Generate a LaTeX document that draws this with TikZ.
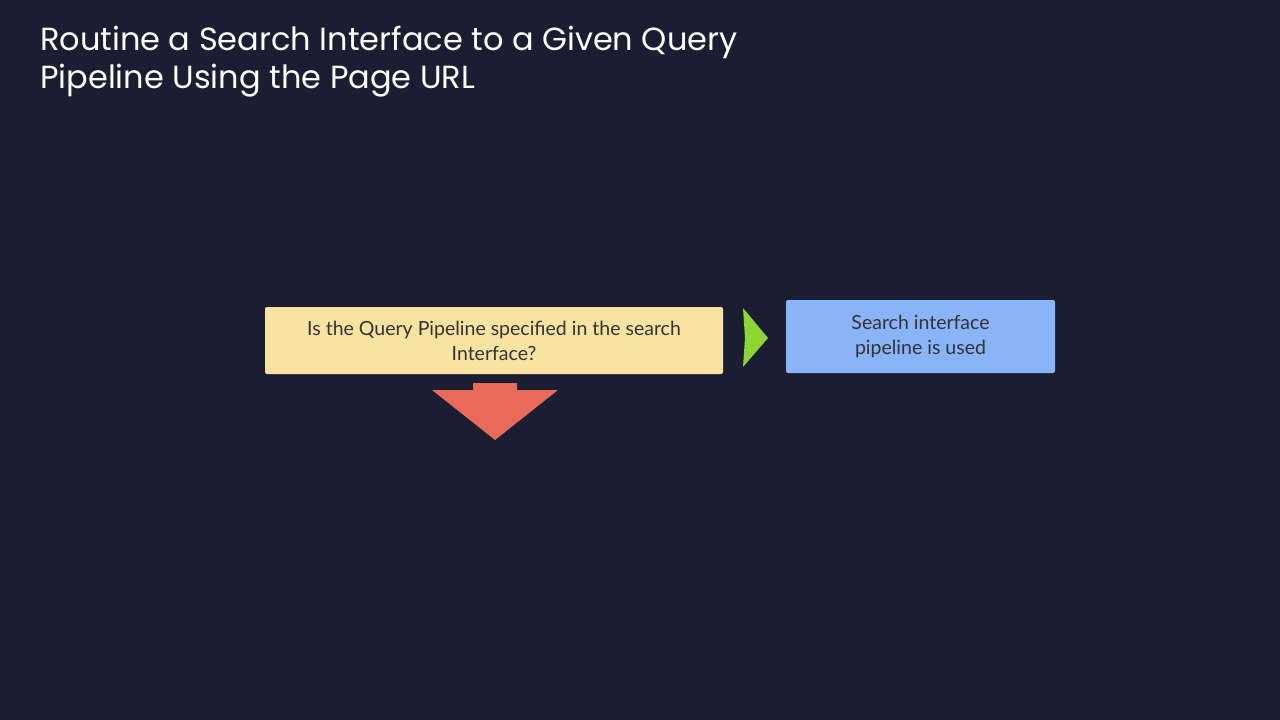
\documentclass[tikz,border=0pt]{standalone}
\usepackage{fontspec}
\setmainfont{Lato}
\newfontfamily\titlefont{Poppins}
\begin{document}
\begin{tikzpicture}[x=1pt,y=-1pt,
  box/.style={rounded corners=2pt,align=center,text=black!80,font=\fontsize{19.5}{25}\selectfont,inner sep=0pt}]
\fill[fill={rgb,255:red,27;green,30;blue,50}] (0,0) rectangle (1280,720);
\useasboundingbox (0,0) rectangle (1280,720);
\node[anchor=north west,align=left,text=white,font=\titlefont\fontsize{32}{38}\selectfont,inner sep=0pt] (title) at (40,26) {Routine a Search Interface to a Given Query\\Pipeline Using the Page URL};
\node[box,fill={rgb,255:red,248;green,228;blue,160},minimum width=458,minimum height=67] (q) at (494,340.5) {Is the Query Pipeline specified in the search\\Interface?};
\node[box,fill={rgb,255:red,137;green,180;blue,247},minimum width=269,minimum height=73] (s) at (920.5,336.5) {Search interface\\pipeline is used};
\fill[fill={rgb,255:red,232;green,106;blue,88}] (473,383) -- (517,383) -- (517,390) -- (558,390) -- (495,440) -- (432,390) -- (473,390) -- cycle;
\fill[fill={rgb,255:red,140;green,214;blue,50}] (743,308) -- (768,338) -- (743,367) -- (745,338) -- cycle;
\end{tikzpicture}
\end{document}
